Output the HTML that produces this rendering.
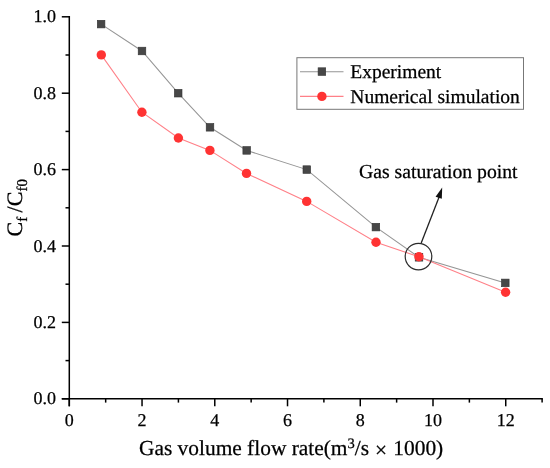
<!DOCTYPE html>
<html><head><meta charset="utf-8"><style>
html,body{margin:0;padding:0;background:#fff;}
svg{display:block;text-rendering:geometricPrecision;}
.t{font-family:'Liberation Serif', 'Times New Roman', serif;font-size:18px;fill:#000;stroke:#000;stroke-width:0.25px;}
.lg{font-size:19.5px;}
.an{font-size:19.7px;}
.t2{font-family:'Liberation Serif', 'Times New Roman', serif;font-size:21.4px;fill:#000;stroke:#000;stroke-width:0.25px;}
</style></head><body>
<svg width="550" height="468" viewBox="0 0 550 468">
<rect width="550" height="468" fill="#fff"/>
<polyline points="101.1,24.1 142.0,51.0 178.2,93.2 210.0,127.3 246.7,150.4 306.8,169.6 375.9,227.1 419.0,257.3 505.3,282.9" fill="none" stroke="#959595" stroke-width="1.05"/>
<polyline points="101.3,54.9 141.9,112.2 178.4,138.0 209.9,150.4 246.5,173.4 306.7,201.4 376.0,242.2 418.9,256.8 505.6,292.3" fill="none" stroke="#ff8088" stroke-width="1.1"/>
<rect x="97.30" y="20.30" width="7.6" height="7.6" fill="#474747" stroke="#333" stroke-width="0.6"/>
<rect x="138.20" y="47.20" width="7.6" height="7.6" fill="#474747" stroke="#333" stroke-width="0.6"/>
<rect x="174.40" y="89.40" width="7.6" height="7.6" fill="#474747" stroke="#333" stroke-width="0.6"/>
<rect x="206.20" y="123.50" width="7.6" height="7.6" fill="#474747" stroke="#333" stroke-width="0.6"/>
<rect x="242.90" y="146.60" width="7.6" height="7.6" fill="#474747" stroke="#333" stroke-width="0.6"/>
<rect x="303.00" y="165.80" width="7.6" height="7.6" fill="#474747" stroke="#333" stroke-width="0.6"/>
<rect x="372.10" y="223.30" width="7.6" height="7.6" fill="#474747" stroke="#333" stroke-width="0.6"/>
<rect x="415.20" y="253.50" width="7.6" height="7.6" fill="#474747" stroke="#333" stroke-width="0.6"/>
<rect x="501.50" y="279.10" width="7.6" height="7.6" fill="#474747" stroke="#333" stroke-width="0.6"/>
<circle cx="101.30" cy="54.90" r="4.7" fill="#ff3333"/>
<circle cx="141.90" cy="112.20" r="4.7" fill="#ff3333"/>
<circle cx="178.40" cy="138.00" r="4.7" fill="#ff3333"/>
<circle cx="209.90" cy="150.40" r="4.7" fill="#ff3333"/>
<circle cx="246.50" cy="173.40" r="4.7" fill="#ff3333"/>
<circle cx="306.70" cy="201.40" r="4.7" fill="#ff3333"/>
<circle cx="376.00" cy="242.20" r="4.7" fill="#ff3333"/>
<circle cx="418.90" cy="256.80" r="4.7" fill="#ff3333"/>
<circle cx="505.60" cy="292.30" r="4.7" fill="#ff3333"/>
<path d="M69.30 16.05 V406.30" stroke="#000" stroke-width="1.5" fill="none"/>
<path d="M61.80 398.80 H542.86" stroke="#000" stroke-width="1.5" fill="none"/>
<path d="M69.30 398.80 H61.80" stroke="#000" stroke-width="1.5"/>
<path d="M69.30 360.60 H65.50" stroke="#000" stroke-width="1.5"/>
<path d="M69.30 322.40 H61.80" stroke="#000" stroke-width="1.5"/>
<path d="M69.30 284.20 H65.50" stroke="#000" stroke-width="1.5"/>
<path d="M69.30 246.00 H61.80" stroke="#000" stroke-width="1.5"/>
<path d="M69.30 207.80 H65.50" stroke="#000" stroke-width="1.5"/>
<path d="M69.30 169.60 H61.80" stroke="#000" stroke-width="1.5"/>
<path d="M69.30 131.40 H65.50" stroke="#000" stroke-width="1.5"/>
<path d="M69.30 93.20 H61.80" stroke="#000" stroke-width="1.5"/>
<path d="M69.30 55.00 H65.50" stroke="#000" stroke-width="1.5"/>
<path d="M69.30 16.80 H61.80" stroke="#000" stroke-width="1.5"/>
<path d="M69.30 398.80 V406.30" stroke="#000" stroke-width="1.5"/>
<path d="M105.67 398.80 V402.60" stroke="#000" stroke-width="1.5"/>
<path d="M142.04 398.80 V406.30" stroke="#000" stroke-width="1.5"/>
<path d="M178.41 398.80 V402.60" stroke="#000" stroke-width="1.5"/>
<path d="M214.78 398.80 V406.30" stroke="#000" stroke-width="1.5"/>
<path d="M251.15 398.80 V402.60" stroke="#000" stroke-width="1.5"/>
<path d="M287.52 398.80 V406.30" stroke="#000" stroke-width="1.5"/>
<path d="M323.89 398.80 V402.60" stroke="#000" stroke-width="1.5"/>
<path d="M360.26 398.80 V406.30" stroke="#000" stroke-width="1.5"/>
<path d="M396.63 398.80 V402.60" stroke="#000" stroke-width="1.5"/>
<path d="M433.00 398.80 V406.30" stroke="#000" stroke-width="1.5"/>
<path d="M469.37 398.80 V402.60" stroke="#000" stroke-width="1.5"/>
<path d="M505.74 398.80 V406.30" stroke="#000" stroke-width="1.5"/>
<path d="M542.11 398.80 V402.60" stroke="#000" stroke-width="1.5"/>
<text x="55.9" y="404.40" text-anchor="end" class="t">0.0</text>
<text x="55.9" y="328.00" text-anchor="end" class="t">0.2</text>
<text x="55.9" y="251.60" text-anchor="end" class="t">0.4</text>
<text x="55.9" y="175.20" text-anchor="end" class="t">0.6</text>
<text x="55.9" y="98.80" text-anchor="end" class="t">0.8</text>
<text x="55.9" y="22.40" text-anchor="end" class="t">1.0</text>
<text x="69.30" y="426" text-anchor="middle" class="t">0</text>
<text x="142.04" y="426" text-anchor="middle" class="t">2</text>
<text x="214.78" y="426" text-anchor="middle" class="t">4</text>
<text x="287.52" y="426" text-anchor="middle" class="t">6</text>
<text x="360.26" y="426" text-anchor="middle" class="t">8</text>
<text x="433.00" y="426" text-anchor="middle" class="t">10</text>
<text x="505.74" y="426" text-anchor="middle" class="t">12</text>
<rect x="296.9" y="57.7" width="226.6" height="51.6" fill="#fff" stroke="#777" stroke-width="1"/>
<path d="M300 71.8 H343.5" stroke="#959595" stroke-width="1.05"/>
<rect x="318.10" y="67.80" width="7.6" height="7.6" fill="#474747" stroke="#333" stroke-width="0.6"/>
<text x="350.3" y="78" class="t lg">Experiment</text>
<path d="M300 96.4 H343.5" stroke="#ff8088" stroke-width="1.1"/>
<circle cx="321.9" cy="96.4" r="4.7" fill="#ff3333"/>
<text x="350.3" y="102.5" class="t lg">Numerical simulation</text>
<circle cx="418.5" cy="256.6" r="13.3" fill="none" stroke="#2a2a2a" stroke-width="1.2"/>
<path d="M421.2 242.9 L439.2 196.8" stroke="#222" stroke-width="1.3"/>
<path d="M442.2 187.5 L435.6 196.7 L441.8 198.8 Z" fill="#111"/>
<text x="359" y="178.4" class="t an">Gas saturation point</text>
<text x="139" y="454.9" class="t2">Gas volume flow rate(m<tspan dy="-6.8" font-size="14.5">3</tspan><tspan dy="6.8">/s </tspan><tspan dx="0.6" dy="2.2">×</tspan><tspan dx="0.9" dy="-2.2"> 1000)</tspan></text>
<text transform="translate(21.6 236.4) rotate(-90)" class="t2" style="font-size:22px">C<tspan dy="5.2" font-size="15">f</tspan><tspan dy="-5.2" dx="-1.2"> /C</tspan><tspan dy="5.2" font-size="15">f0</tspan></text>
</svg>
</body></html>
